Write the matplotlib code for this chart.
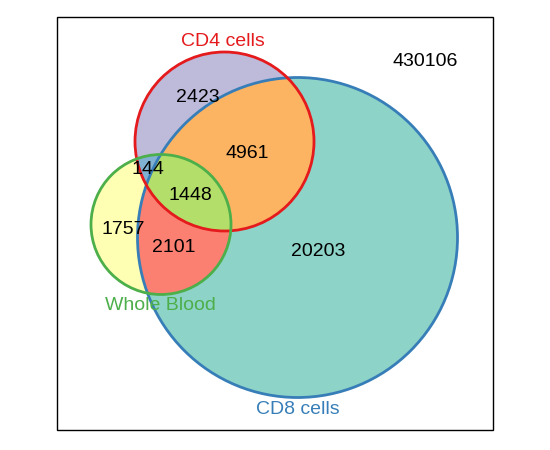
import numpy as np
import matplotlib
matplotlib.use("Agg")
import matplotlib.pyplot as plt
from matplotlib.patches import Circle, Polygon, Rectangle

plt.rcParams['font.family'] = ['Liberation Sans', 'DejaVu Sans']

# set names and region counts
set_names = ["CD4 cells", "CD8 cells", "Whole Blood"]
region_keys = ["CD4", "CD8", "WB", "CD4&CD8", "CD4&WB", "CD8&WB", "CD4&CD8&WB", "none"]
region_counts = [2423, 20203, 1757, 4961, 144, 2101, 1448, 430106]

# circle geometry, in pixels (x, y from top-left)
circles = {
    "CD4": (224.5, 141.5, 89.5),
    "CD8": (297.5, 237.5, 160.0),
    "WB": (161.0, 224.5, 70.0),
}
edge_colors = {"CD4": "#E41A1C", "CD8": "#377EB8", "WB": "#4DAF4A"}
fill_colors = {
    "CD4": "#BEBADA", "CD8": "#8DD3C7", "WB": "#FFFFB3",
    "CD4&CD8": "#FDB462", "CD4&WB": "#80B1D3", "CD8&WB": "#FB8072",
    "CD4&CD8&WB": "#B3DE69",
}
label_pos = {
    "CD4": (198, 98), "CD8": (318, 251), "WB": (123, 229),
    "CD4&CD8": (247, 153), "CD4&WB": (148, 170), "CD8&WB": (174, 247),
    "CD4&CD8&WB": (190, 196), "none": (425, 62),
}
name_pos = [(223, 42), (298, 410), (160, 306)]
name_keys = ["CD4", "CD8", "WB"]


def circle_poly(key, n=720):
    cx, cy, r = circles[key]
    t = np.linspace(0, 2 * np.pi, n, endpoint=False)
    return np.column_stack([cx + r * np.cos(t), cy + r * np.sin(t)])


def clip(subject, key):
    # Sutherland-Hodgman clip of a polygon against a circle (as polygon)
    clipper = circle_poly(key)
    out = list(subject)
    for i in range(len(clipper)):
        a = clipper[i]
        b = clipper[(i + 1) % len(clipper)]
        inp = out
        out = []
        if not inp:
            break

        def inside(p):
            return (b[0] - a[0]) * (p[1] - a[1]) - (b[1] - a[1]) * (p[0] - a[0]) >= 0

        def inter(p, q):
            d1 = np.array(q) - np.array(p)
            d2 = b - a
            den = d1[0] * d2[1] - d1[1] * d2[0]
            t = ((a[0] - p[0]) * d2[1] - (a[1] - p[1]) * d2[0]) / den
            return np.array(p) + t * d1

        s = inp[-1]
        for e in inp:
            if inside(e):
                if not inside(s):
                    out.append(inter(s, e))
                out.append(e)
            elif inside(s):
                out.append(inter(s, e))
            s = e
    return np.array(out)


fig = plt.figure(figsize=(5.5, 4.5), dpi=100)
ax = fig.add_axes([0, 0, 1, 1])
ax.set_xlim(0, 550)
ax.set_ylim(450, 0)
ax.axis("off")

ax.add_patch(Rectangle((57, 17), 436, 413, fill=False, edgecolor="black", lw=1.0))

# fills, layered
for key in ["CD8", "CD4", "WB"]:
    ax.add_patch(Polygon(circle_poly(key), closed=True, facecolor=fill_colors[key], edgecolor="none"))
    if key == "CD4":
        ax.add_patch(Polygon(clip(circle_poly("CD4"), "CD8"), facecolor=fill_colors["CD4&CD8"], edgecolor="none"))
ax.add_patch(Polygon(clip(circle_poly("WB"), "CD8"), facecolor=fill_colors["CD8&WB"], edgecolor="none"))
ax.add_patch(Polygon(clip(circle_poly("WB"), "CD4"), facecolor=fill_colors["CD4&WB"], edgecolor="none"))
ax.add_patch(Polygon(clip(clip(circle_poly("WB"), "CD4"), "CD8"), facecolor=fill_colors["CD4&CD8&WB"], edgecolor="none"))

# edges
for key in ["CD8", "CD4", "WB"]:
    cx, cy, r = circles[key]
    ax.add_patch(Circle((cx, cy), r, fill=False, edgecolor=edge_colors[key], lw=2.0))

for key, n in zip(region_keys, region_counts):
    x, y = label_pos[key]
    ax.text(x, y, str(n), ha="center", va="center", fontsize=14, color="black")

for name, key, (x, y) in zip(set_names, name_keys, name_pos):
    ax.text(x, y, name, ha="center", va="center", fontsize=14, color=edge_colors[key])

fig.savefig("out.png", dpi=100)
